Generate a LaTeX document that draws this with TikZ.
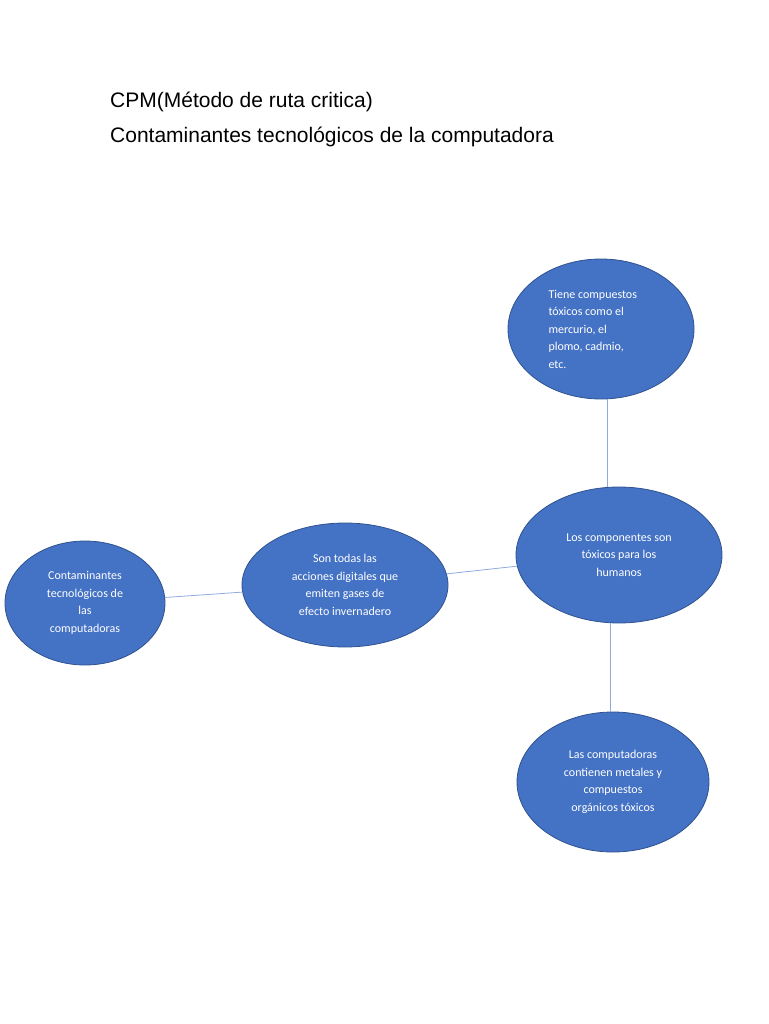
\documentclass[tikz,border=0pt]{standalone}
\usepackage{fontspec}
\setmainfont{Carlito}
\newfontfamily\titlefont{Liberation Sans}
\usetikzlibrary{shapes.geometric}
\definecolor{fillb}{HTML}{4472C4}
\definecolor{edgeb}{HTML}{2F528F}
\definecolor{lineb}{HTML}{8FAADC}
\tikzset{
  bubble/.style={ellipse, fill=fillb, draw=edgeb, line width=0.8pt, text=white, inner sep=0pt,
    align=center, font=\fontsize{12}{17.5}\selectfont},
  link/.style={draw=lineb, line width=0.8pt},
  ttl/.style={anchor=base west, inner sep=0pt, font=\titlefont\fontsize{21}{25}\selectfont}
}
\begin{document}
\begin{tikzpicture}[x=1pt,y=-1pt]
\useasboundingbox (0,0) rectangle (768,1024);
\node[ttl] (t1) at (110,108) {CPM(Método de ruta critica)};
\node[ttl] (t2) at (110,143) {Contaminantes tecnológicos de la computadora};
\node[bubble, minimum width=160pt, minimum height=124pt] (a) at (85,603)
  {Contaminantes\\tecnológicos de\\las\\computadoras};
\node[bubble, minimum width=206pt, minimum height=124pt] (b) at (345,585)
  {Son todas las\\acciones digitales que\\emiten gases de\\efecto invernadero};
\node[bubble, minimum width=206pt, minimum height=136pt] (c) at (619,555)
  {Los componentes son\\tóxicos para los\\humanos};
\node[bubble, minimum width=186pt, minimum height=140pt] (d) at (601,329)
  {\parbox{105pt}{\raggedright Tiene compuestos\\tóxicos como el\\mercurio, el\\plomo, cadmio,\\etc.}};
\node[bubble, minimum width=192pt, minimum height=140pt] (e) at (613,782)
  {Las computadoras\\contienen metales y\\compuestos\\orgánicos tóxicos};
\draw[link] (a) -- (b);
\draw[link] (b) -- (c);
\draw[link] (c.north -| 607,0) -- (d.south -| 607,0);
\draw[link] (c.south -| 610,0) -- (e.north -| 610,0);
\end{tikzpicture}
\end{document}
